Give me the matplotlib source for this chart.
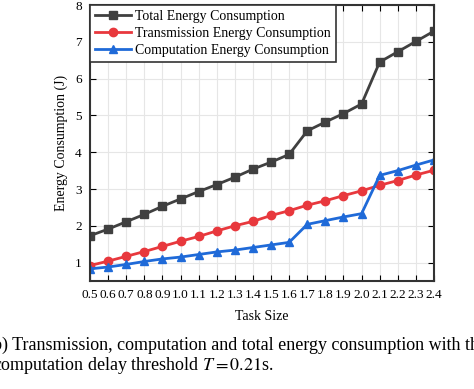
import numpy as np
import matplotlib.pyplot as plt

task_size = [0.5, 0.6, 0.7, 0.8, 0.9, 1.0, 1.1, 1.2, 1.3, 1.4,
             1.5, 1.6, 1.7, 1.8, 1.9, 2.0, 2.1, 2.2, 2.3, 2.4]
total = [1.73, 1.91, 2.11, 2.31, 2.53, 2.73, 2.93, 3.12, 3.32, 3.54,
         3.73, 3.94, 4.58, 4.82, 5.05, 5.31, 6.45, 6.73, 7.01, 7.29]
transmission = [0.92, 1.04, 1.17, 1.30, 1.44, 1.58, 1.71, 1.86, 2.00, 2.12,
                2.28, 2.41, 2.56, 2.68, 2.82, 2.95, 3.10, 3.23, 3.38, 3.51]
computation = [0.83, 0.88, 0.95, 1.03, 1.10, 1.15, 1.22, 1.29, 1.34, 1.41,
               1.48, 1.55, 2.04, 2.14, 2.24, 2.33, 3.37, 3.50, 3.65, 3.79]

plt.rcParams["font.family"] = ["Liberation Serif", "DejaVu Serif"]
plt.rcParams["mathtext.fontset"] = "stix"

fig = plt.figure(figsize=(4.74, 3.89), dpi=100)
ax = fig.add_axes([90 / 474, 1 - 281 / 389, 344 / 474, 276 / 389])

ax.plot(task_size, total, color="#404040", marker="s", markersize=5.5, linewidth=2, label="Total Energy Consumption")
ax.plot(task_size, transmission, color="#e8383d", marker="o", markersize=6, linewidth=2, label="Transmission Energy Consumption")
ax.plot(task_size, computation, color="#1f6ad8", marker="^", markersize=6, linewidth=2, label="Computation Energy Consumption")

ax.set_xlim(0.5, 2.4)
ax.set_ylim(0.5, 8)
ax.set_xticks(task_size)
ax.set_xticklabels(["%.1f" % v for v in task_size])
ax.set_yticks(range(1, 9))
ax.grid(True, color="#e6e6e6", linewidth=0.8)
ax.tick_params(direction="in", top=True, right=True, labelsize=9.5, length=4, pad=6)
for s in ax.spines.values():
    s.set_linewidth(1.5)
    s.set_color("#333333")

ax.set_xlabel("Task Size", fontsize=10, labelpad=6)
ax.set_ylabel("Energy Consumption (J)", fontsize=10, labelpad=5)

leg = ax.legend(loc="upper left", fontsize=10, fancybox=False, framealpha=1,
                edgecolor="#333333", borderaxespad=0, handlelength=2.6,
                borderpad=0.35, labelspacing=0.3, handletextpad=0.3)
leg.get_frame().set_linewidth(1.2)

fig.text(-13 / 474, 1 - 350 / 389, "(b) Transmission, computation and total energy consumption with the",
         fontsize=13, ha="left", va="baseline")
fig.text(-7 / 474, 1 - 370 / 389, r"computation delay threshold $T = 0.21$s.",
         fontsize=13, ha="left", va="baseline")

fig.savefig("out.png", dpi=100)
